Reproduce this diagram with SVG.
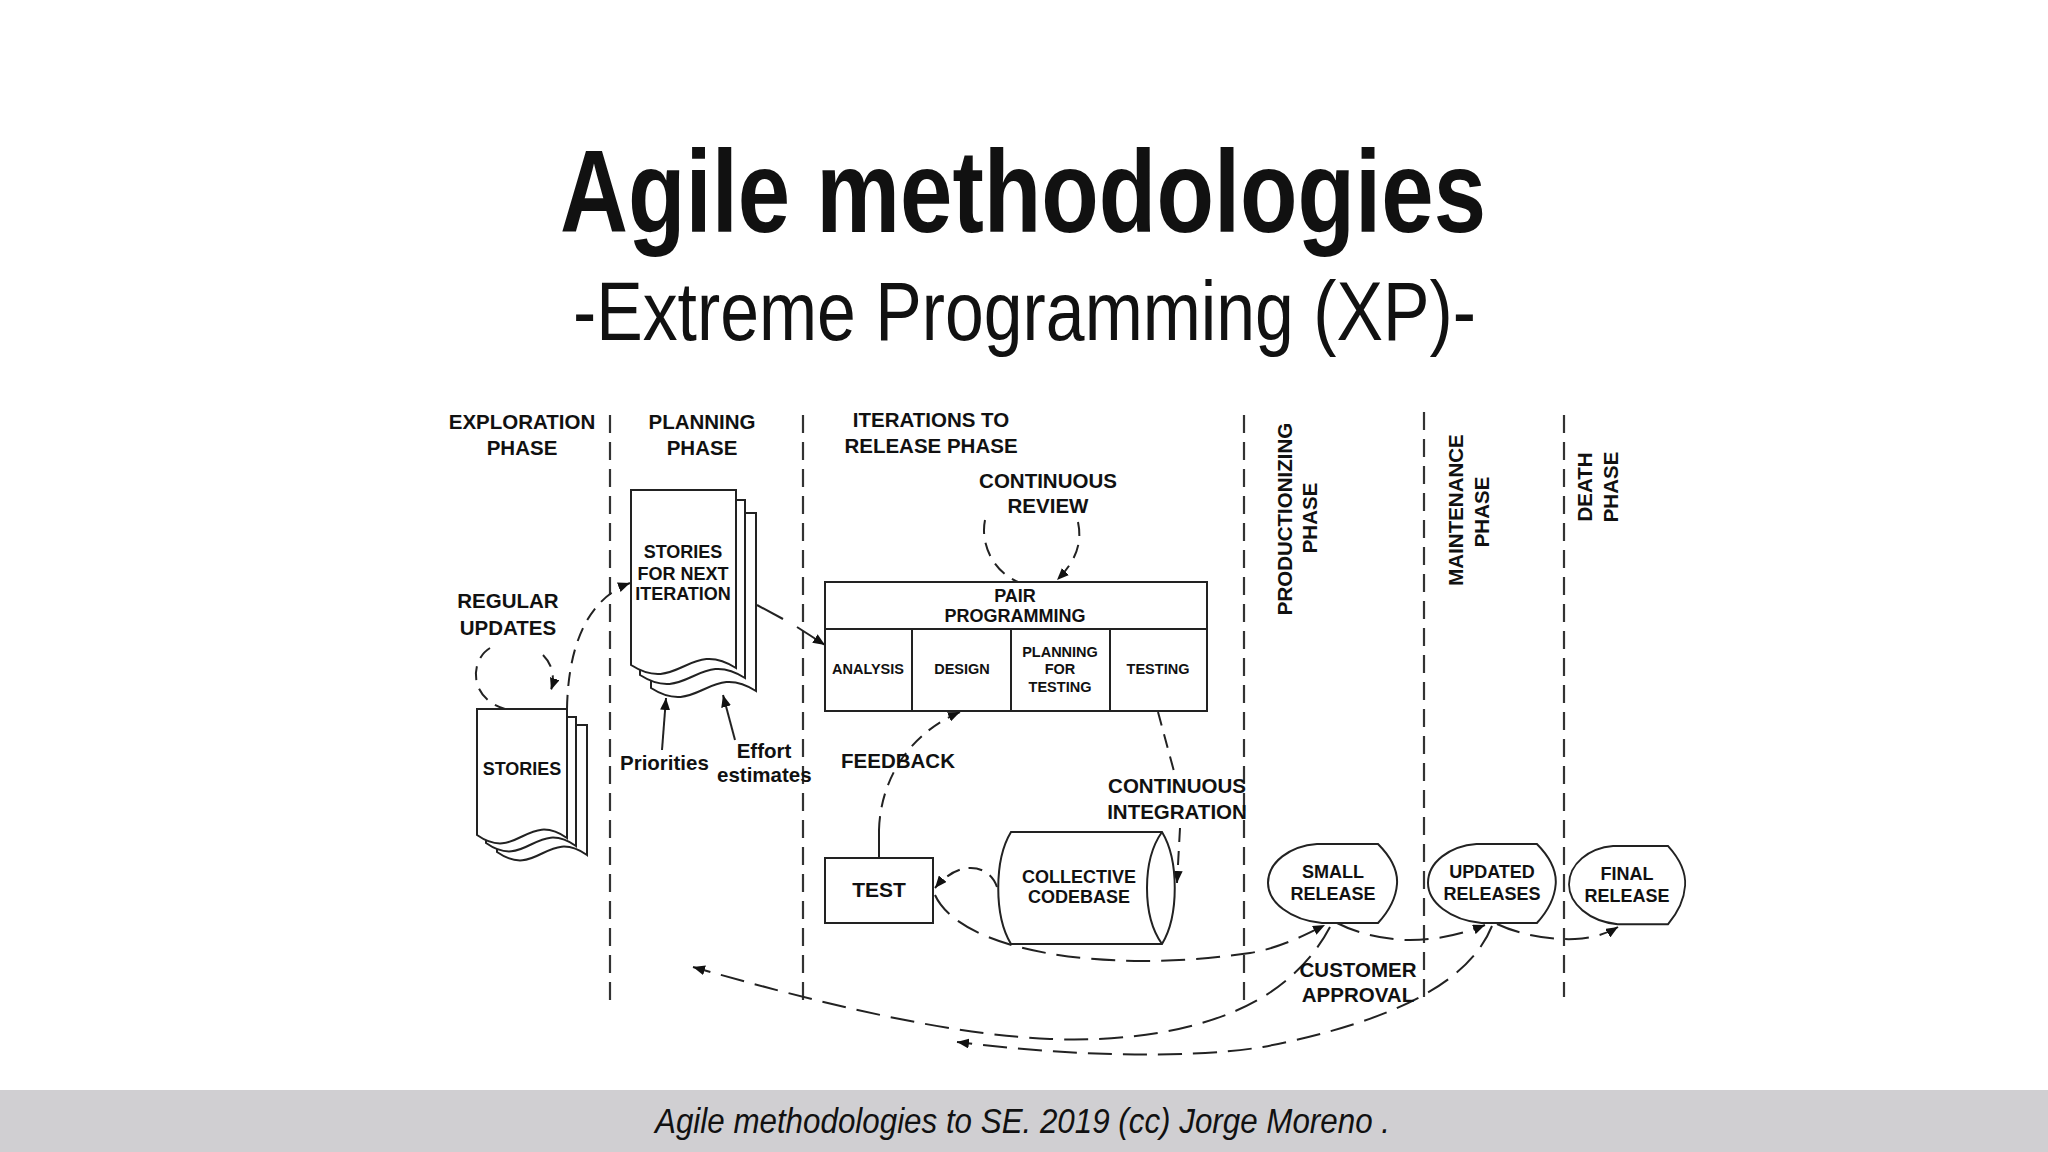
<svg xmlns="http://www.w3.org/2000/svg" width="2048" height="1152" viewBox="0 0 2048 1152">
<defs>
<style>
text{font-family:"Liberation Sans",Arial,sans-serif;fill:#111;}
.b{font-weight:bold;text-anchor:middle;}
.l{font-size:20.5px;}
.m{font-size:18px;}
.s{font-size:14.5px;}
.shape{fill:#fff;stroke:#222;stroke-width:2;}
.div{stroke:#333;stroke-width:2.2;stroke-dasharray:18 9;fill:none;}
.dash{stroke:#222;stroke-width:2;stroke-dasharray:24 11;fill:none;}
.dsh{stroke:#222;stroke-width:2;stroke-dasharray:14 9;fill:none;}
.solid{stroke:#222;stroke-width:2;fill:none;}
</style>
<marker id="ah" markerUnits="userSpaceOnUse" markerWidth="13" markerHeight="10" refX="12" refY="5" orient="auto">
<path d="M0,0 L12,5 L0,10 Z" fill="#111"/>
</marker>
<path id="rel" d="M49,0 L110,0 C124,14 130,26 129,40 C128,54 122,66 110,79 L54,79 C22,76 0,58 0,39 C0,18 22,2 49,0 Z"/>
</defs>
<rect x="0" y="0" width="2048" height="1152" fill="#fff"/>

<g id="title">
<text x="560" y="232" font-size="117" font-weight="bold" style="font-family:'Liberation Sans Narrow','Liberation Sans',Arial,sans-serif" textLength="926" lengthAdjust="spacingAndGlyphs">Agile methodologies</text>
<text x="573" y="340" font-size="84" style="font-family:'Liberation Sans Narrow','Liberation Sans',Arial,sans-serif" textLength="903" lengthAdjust="spacingAndGlyphs">-Extreme Programming (XP)-</text>
</g>

<g id="dividers">
<line class="div" x1="610" y1="415" x2="610" y2="1002"/>
<line class="div" x1="803" y1="415" x2="803" y2="1000"/>
<line class="div" x1="1244" y1="415" x2="1244" y2="1000"/>
<line class="div" x1="1424" y1="412" x2="1424" y2="1000"/>
<line class="div" x1="1564" y1="415" x2="1564" y2="997"/>
</g>

<g id="phase-labels">
<text class="b l" x="522" y="429">EXPLORATION</text>
<text class="b l" x="522" y="455">PHASE</text>
<text class="b l" x="702" y="429">PLANNING</text>
<text class="b l" x="702" y="455">PHASE</text>
<text class="b l" x="931" y="427">ITERATIONS TO</text>
<text class="b l" x="931" y="453">RELEASE PHASE</text>
<text class="b l" transform="translate(1292,519) rotate(-90)">PRODUCTIONIZING</text>
<text class="b l" transform="translate(1317,518) rotate(-90)">PHASE</text>
<text class="b l" transform="translate(1463,510) rotate(-90)">MAINTENANCE</text>
<text class="b l" transform="translate(1489,512) rotate(-90)">PHASE</text>
<text class="b l" transform="translate(1592,487) rotate(-90)">DEATH</text>
<text class="b l" transform="translate(1618,487) rotate(-90)">PHASE</text>
</g>

<g id="connectors">
<!-- regular updates loop -->
<path class="dsh" d="M490,648 C470,660 468,698 505,709"/>
<path class="dsh" d="M543,655 C553,665 555,678 551,690" marker-end="url(#ah)"/>
<!-- stories to stories for next iteration -->
<path class="dsh" d="M567,709 C568,650 585,600 630,583" marker-end="url(#ah)"/>
<!-- priorities / effort -->
<path class="solid" d="M662,750 L666,698" marker-end="url(#ah)"/>
<path class="solid" d="M735,740 L723,695" marker-end="url(#ah)"/>
<!-- stories for next iteration to pair programming -->
<path class="solid" d="M757,605 L783,619"/>
<path class="solid" d="M797,627 L825,645" marker-end="url(#ah)"/>
<!-- continuous review loop -->
<path class="dsh" d="M985,520 C980,545 994,572 1018,582"/>
<path class="dsh" d="M1078,522 C1083,545 1074,563 1057,580" marker-end="url(#ah)"/>
<!-- feedback -->
<path class="solid" d="M879,857 L879,830"/>
<path class="dsh" d="M879,830 C880,790 900,738 960,712" marker-end="url(#ah)"/>
<!-- continuous integration -->
<path class="dsh" d="M1158,712 L1175,775"/>
<path class="dsh" d="M1180,828 L1177,883" marker-end="url(#ah)"/>
<!-- codebase to test -->
<path class="dsh" d="M997,887 C990,865 960,858 935,888" marker-end="url(#ah)"/>
<!-- test to small release -->
<path class="dash" d="M935,895 C960,950 1100,975 1250,953 C1280,948 1305,935 1325,925" marker-end="url(#ah)"/>
<!-- small release to updated -->
<path class="dash" d="M1337,923 C1360,935 1390,940 1410,940 C1440,940 1465,933 1485,925" marker-end="url(#ah)"/>
<!-- updated to final -->
<path class="dash" d="M1497,924 C1520,935 1550,940 1575,939 C1595,938 1608,933 1618,927" marker-end="url(#ah)"/>
<!-- customer approval back to planning -->
<path class="dash" d="M1330,927 C1310,965 1275,995 1233,1012 C1190,1030 1130,1042 1050,1039 C960,1035 850,1012 693,967" marker-end="url(#ah)"/>
<!-- updated releases back to iterations -->
<path class="dash" d="M1492,926 C1470,980 1400,1020 1263,1047 C1180,1060 1060,1055 957,1042" marker-end="url(#ah)"/>
</g>

<g id="regular-updates">
<text class="b l" x="508" y="608">REGULAR</text>
<text class="b l" x="508" y="635">UPDATES</text>
</g>

<g id="stories">
<path class="shape" d="M497,852 L497,725 L587,725 L587,855 C547,827 537,880 497,852 Z"/>
<path class="shape" d="M486,843 L486,717 L576,717 L576,846 C536,818 526,871 486,843 Z"/>
<path class="shape" d="M477,835 L477,709 L567,709 L567,838 C527,810 517,863 477,835 Z"/>
<text class="b m" x="522" y="775">STORIES</text>
</g>

<g id="stories-next">
<path class="shape" d="M651,688 L651,513 L756,513 L756,691 C709,661 698,718 651,688 Z"/>
<path class="shape" d="M640,675 L640,500 L745,500 L745,678 C698,648 687,705 640,675 Z"/>
<path class="shape" d="M631,665 L631,490 L736,490 L736,668 C689,638 678,695 631,665 Z"/>
<text class="b m" x="683" y="558">STORIES</text>
<text class="b m" x="683" y="580">FOR NEXT</text>
<text class="b m" x="683" y="600">ITERATION</text>
</g>

<g id="priorities">
<text x="620" y="770" font-size="20.5" font-weight="bold">Priorities</text>
</g>
<g id="effort">
<text class="b l" x="764" y="758">Effort</text>
<text x="717" y="782" font-size="20.5" font-weight="bold">estimates</text>
</g>

<g id="continuous-review">
<text class="b l" x="1048" y="488">CONTINUOUS</text>
<text class="b l" x="1048" y="513">REVIEW</text>
</g>

<g id="pair-programming">
<rect class="shape" x="825" y="582" width="382" height="129"/>
<line class="solid" x1="825" y1="629" x2="1207" y2="629"/>
<line class="solid" x1="912" y1="629" x2="912" y2="711"/>
<line class="solid" x1="1011" y1="629" x2="1011" y2="711"/>
<line class="solid" x1="1110" y1="629" x2="1110" y2="711"/>
<text class="b m" x="1015" y="602">PAIR</text>
<text class="b m" x="1015" y="622">PROGRAMMING</text>
<text class="b s" x="868" y="674">ANALYSIS</text>
<text class="b s" x="962" y="674">DESIGN</text>
<text class="b s" x="1060" y="657">PLANNING</text>
<text class="b s" x="1060" y="674">FOR</text>
<text class="b s" x="1060" y="692">TESTING</text>
<text class="b s" x="1158" y="674">TESTING</text>
</g>

<g id="feedback">
<text class="b l" x="898" y="768">FEEDBACK</text>
</g>

<g id="continuous-integration">
<text class="b l" x="1177" y="793">CONTINUOUS</text>
<text class="b l" x="1177" y="819">INTEGRATION</text>
</g>

<g id="test">
<rect class="shape" x="825" y="858" width="108" height="65"/>
<text class="b" x="879" y="897" font-size="21">TEST</text>
</g>

<g id="collective-codebase">
<path class="shape" d="M1011,832 L1162,832 C1179,860 1179,916 1162,944 L1011,944 C994,916 994,860 1011,832 Z"/>
<path class="solid" d="M1162,832 C1142,860 1142,916 1162,944"/>
<text class="b m" x="1079" y="883">COLLECTIVE</text>
<text class="b m" x="1079" y="903">CODEBASE</text>
</g>

<g id="small-release">
<use href="#rel" class="shape" transform="translate(1268,844)"/>
<text class="b m" x="1333" y="878">SMALL</text>
<text class="b m" x="1333" y="900">RELEASE</text>
</g>

<g id="updated-releases">
<use href="#rel" class="shape" transform="translate(1428,844) scale(0.99,1)"/>
<text class="b m" x="1492" y="878">UPDATED</text>
<text class="b m" x="1492" y="900">RELEASES</text>
</g>

<g id="final-release">
<use href="#rel" class="shape" transform="translate(1569,846) scale(0.9,0.99)"/>
<text class="b m" x="1627" y="880">FINAL</text>
<text class="b m" x="1627" y="902">RELEASE</text>
</g>

<g id="customer-approval">
<text class="b l" x="1358" y="977">CUSTOMER</text>
<text class="b l" x="1358" y="1002">APPROVAL</text>
</g>

<g id="footer">
<rect x="0" y="1090" width="2048" height="62" fill="#d0cfd2"/>
<text x="655" y="1133" font-size="35" font-style="italic" style="font-family:'Liberation Sans Narrow','Liberation Sans',Arial,sans-serif" textLength="735" lengthAdjust="spacingAndGlyphs">Agile methodologies to SE. 2019 (cc) Jorge Moreno .</text>
</g>
</svg>
